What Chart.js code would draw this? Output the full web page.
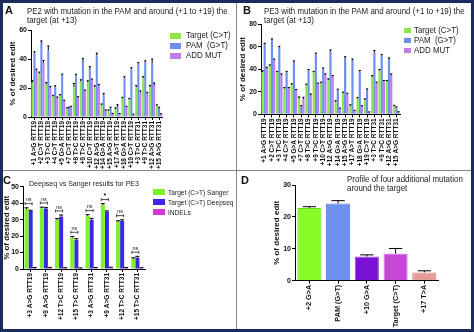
<!DOCTYPE html>
<html>
<head>
<meta charset="utf-8">
<script src="https://cdn.jsdelivr.net/npm/chart.js@4.4.1/dist/chart.umd.min.js"></script>
<style>
  body { margin: 0; background: #fff; }
  #fig { position: relative; width: 474px; height: 332px; overflow: hidden; background: #fff;
         font-family: "Liberation Sans", Arial, sans-serif; color: #1a1a1a; }
  #fig canvas { position: absolute; }
  .frame { position: absolute; left: 0; top: 0; width: 474px; height: 332px; box-sizing: border-box;
           border: 3px solid #1c2b5e; pointer-events: none; }
  .vline { position: absolute; left: 236px; top: 0; width: 1px; height: 332px; background: #7f8ba3; }
  .hline { position: absolute; left: 0; top: 170px; width: 474px; height: 1px; background: #7f8ba3; }
  .letter { position: absolute; font-weight: bold; font-size: 11px; line-height: 11px; color: #111; }
  .title { position: absolute; font-size: 9px; line-height: 9px; white-space: nowrap; color: #222;
           transform: scaleX(0.88); transform-origin: 0 0; }
  .legend { position: absolute; color: #222; white-space: pre; }
  .legend span { position: absolute; }
  .legend span.txt { transform: scaleX(0.88); transform-origin: 0 0; }
</style>
</head>
<body>
<div id="fig">
  <canvas id="chartA" width="168" height="170" style="left:0;top:0"></canvas>
  <canvas id="chartB" width="168" height="170" style="left:238px;top:0"></canvas>
  <canvas id="chartC" width="152" height="157" style="left:0;top:171px"></canvas>
  <canvas id="chartD" width="210" height="157" style="left:238px;top:171px"></canvas>

  <div class="vline"></div>
  <div class="hline"></div>

  <div class="letter" style="left:5px;top:5px">A</div>
  <div class="title" style="left:27px;top:7px">PE2 with mutation in the PAM and around (+1 to +19) the<br>target (at +13)</div>
  <div class="letter" style="left:243px;top:5px">B</div>
  <div class="title" style="left:264px;top:7px">PE3 with mutation in the PAM and around (+1 to +19) the<br>target (at +13)</div>
  <div class="letter" style="left:3px;top:175px">C</div>
  <div class="title" style="left:29px;top:178.5px;font-size:8px">Deepseq vs Sanger results for PE3</div>
  <div class="letter" style="left:241px;top:175px">D</div>
  <div class="title" style="left:347px;top:175px;line-height:8.5px">Profile of four additional mutation<br>around the target</div>

  <div id="legendA" class="legend"></div>
  <div id="legendB" class="legend"></div>
  <div id="legendC" class="legend"></div>

  <div class="frame"></div>
</div>
<script>
// edit sites shared by the PE2 and PE3 panels
const siteLabels = [
  '+1 A>G RTT19', '+2 C>T RTT19', '+3 T>C RTT19', '+4 C>T RTT19', '+5 G>A RTT19',
  '+7 C>T RTT19', '+8 T>C RTT19', '+9 T>C RTT19', '+10 C>T RTT19', '+12 A>G RTT19',
  '+14 G>A RTT19', '+15 A>G RTT19', '+17 A>T RTT19', '+18 G>A RTT19', '+19 C>T RTT19',
  '+3 T>C RTT31', '+9 T>C RTT31', '+12 A>G RTT31', '+15 A>G RTT31'
];
const seriesNames = ['Target (C>T)', 'PAM  (G>T)', 'ADD MUT'];

// PE2
const pe2Target = [24, 30, 22.7, 14, 14.6, 5.7, 20.6, 24.5, 24, 20.6, 8.2, 4.4, 5.5, 12.8, 12, 20.6, 26.8, 20.6, 7.8];
const pe2Pam    = [44, 51, 46, 20.6, 28.6, 6.2, 28, 39.4, 33.2, 42.6, 15.3, 6, 7, 26.8, 33, 36.6, 37.8, 37, 6.2];
const pe2Add    = [32, 37.5, 20, 12.8, 10.8, 6.9, 13, 17.6, 25.2, 21.5, 4.4, 2, 2, 6.9, 1.6, 17, 16, 22, 2];
const pe2TargetErr = [1, 1, 1, 1, 0.8, 0.6, 2.5, 1.2, 1, 1, 0.8, 0.5, 0.8, 0.8, 0.8, 1, 1, 1.2, 0.6];
const pe2PamErr    = [1, 1.5, 3, 1, 1, 0.6, 1.5, 1, 1.5, 1.5, 1, 0.8, 1.5, 1, 1, 1, 1, 3, 0.5];
const pe2AddErr    = [1, 1.5, 1, 1, 0.8, 0.5, 1, 1, 1, 1, 0.5, 0.5, 0.4, 0.5, 0.4, 1, 1, 1.5, 0.3];

// PE3
const pe3Target = [37.5, 42.8, 37, 22.7, 26, 13.9, 25.7, 37, 27.5, 30.4, 11, 18.6, 7.4, 13.9, 12.7, 32.8, 38.7, 29, 7.4];
const pe3Pam    = [62, 65.8, 59, 37, 46.3, 6.8, 38.7, 53, 40, 55.5, 21.5, 50, 48, 37.8, 21.5, 55, 52, 49, 6.2];
const pe3Add    = [40.7, 47.5, 34.8, 22.7, 21, 13.6, 17, 26.6, 34.8, 33.4, 4.7, 17.7, 3, 6.8, 1.8, 27.5, 29, 34.8, 2];
const pe3TargetErr = [1, 1, 1, 1, 1, 1.5, 1, 1, 1, 1, 1, 1, 1, 1, 1, 1.5, 1, 1, 0.6];
const pe3PamErr    = [1, 1, 1.2, 1, 1, 0.8, 1, 1.2, 1, 1.5, 0.8, 1, 1, 1, 1, 1.5, 1, 1, 0.5];
const pe3AddErr    = [1, 1.5, 1, 1, 1, 1.5, 1, 1, 1, 1, 0.8, 1, 0.5, 0.8, 0.3, 1, 1, 1, 0.3];

// Deepseq vs Sanger
const seqLabels = ['+3 A>G RTT19', '+9 A>G RTT19', '+12 T>C RTT19', '+15 T>C RTT19',
                   '+3 A>G RTT31', '+9 A>G RTT31', '+12 T>C RTT31', '+15 T>C RTT31'];
const seqNames = ['Target (C>T) Sanger', 'Target (C>T) Deepseq', 'INDELs'];
const sangerVals  = [36.4, 36.8, 29.8, 19, 32.4, 38.9, 28.7, 6];
const deepseqVals = [35.2, 36.8, 31.8, 17.6, 29.8, 34.8, 29.1, 6.9];
const indelVals   = [0.6, 0.7, 0.5, 0.4, 0.6, 0.8, 0.6, 0.5];
const sangerErr   = [0.8, 0.8, 0.8, 0.8, 0.6, 0.8, 0.6, 0.8];
const deepseqErr  = [0.5, 0.5, 1, 0.8, 1, 0.5, 0.8, 0.8];
const indelErr    = [0.3, 0.3, 0.3, 0.3, 0.3, 0.3, 0.3, 0.3];
const sigMarks    = ['ns', 'ns', 'ns', 'ns', 'ns', '*', 'ns', 'ns'];

// four additional mutations
const profileLabels = ['+2 G>A', 'PAM (G>T)', '+10 G>A', 'Target (C>T)', '+17 T>A'];
const profileVals   = [22.8, 24.2, 7.6, 8.5, 2.6];
const profileErr    = [0.4, 0.9, 0.5, 1.6, 0.5];

const abColors = ['#8ee44c', '#6d8ff0', '#c27cf0'];
const seqColors = ['#7ef22a', '#3b27e4', '#d63ad6'];
const profileColors = ['#86fb25', '#6e90ef', '#7a12d4', '#c647d6', '#e89c9a'];
const profileEdges  = ['#6fd81a', '#5a7ad8', '#9a50e0', '#e070e8', '#d88886'];

const FONT = '"Liberation Sans", Arial, sans-serif';
Chart.defaults.font.family = FONT;

// mean + SD caps drawn on top of each bar
const errorBars = {
  id: 'errorBars',
  afterDatasetsDraw(chart, args, opts) {
    const { ctx, scales: { y } } = chart;
    ctx.save();
    ctx.strokeStyle = '#000';
    ctx.lineWidth = 1;
    chart.data.datasets.forEach((ds, i) => {
      if (!ds.errors) return;
      chart.getDatasetMeta(i).data.forEach((bar, j) => {
        const yTop = y.getPixelForValue(ds.data[j] + ds.errors[j]);
        const half = Math.max(bar.width * (opts.cap || 1) / 2, 1);
        ctx.beginPath();
        ctx.moveTo(bar.x, bar.y);
        ctx.lineTo(bar.x, yTop);
        ctx.moveTo(bar.x - half, yTop);
        ctx.lineTo(bar.x + half, yTop);
        ctx.stroke();
      });
    });
    ctx.restore();
  }
};

// significance brackets between the first two series
const sigBrackets = {
  id: 'sigBrackets',
  afterDatasetsDraw(chart, args, opts) {
    if (!opts.marks) return;
    const { ctx, scales: { y } } = chart;
    const [d0, d1] = chart.data.datasets;
    const m0 = chart.getDatasetMeta(0).data, m1 = chart.getDatasetMeta(1).data;
    ctx.save();
    ctx.strokeStyle = '#222';
    ctx.fillStyle = '#222';
    ctx.lineWidth = 0.8;
    ctx.textAlign = 'center';
    ctx.textBaseline = 'bottom';
    opts.marks.forEach((mark, i) => {
      const top = Math.max(d0.data[i] + d0.errors[i], d1.data[i] + d1.errors[i]);
      const yy = y.getPixelForValue(top + opts.gap);
      const x1 = m0[i].x - 1.5, x2 = m1[i].x + 1.5;
      ctx.beginPath();
      ctx.moveTo(x1, yy); ctx.lineTo(x2, yy);
      ctx.moveTo(x1, yy - 1.5); ctx.lineTo(x1, yy + 1.5);
      ctx.moveTo(x2, yy - 1.5); ctx.lineTo(x2, yy + 1.5);
      ctx.stroke();
      ctx.font = mark === '*' ? `bold 7px ${FONT}` : `5.5px ${FONT}`;
      ctx.fillText(mark, (x1 + x2) / 2, yy - (mark === '*' ? 0 : 1));
    });
    ctx.restore();
  }
};

function baseOptions({ yMax, yStep, yWidth, xHeight, pad, titlePad, xFont }) {
  const tickGrid = { display: true, drawOnChartArea: false, offset: false, color: '#000', tickLength: 3, tickWidth: 1 };
  return {
    responsive: false,
    animation: false,
    events: [],
    layout: { padding: pad },
    plugins: { legend: { display: false }, tooltip: { enabled: false } },
    scales: {
      x: {
        grid: tickGrid,
        border: { color: '#000', width: 1 },
        ticks: { autoSkip: false, minRotation: 90, maxRotation: 90, padding: 1, color: '#111', font: xFont },
        afterFit: (s) => { s.height = xHeight; },
      },
      y: {
        min: 0,
        max: yMax,
        grid: tickGrid,
        border: { color: '#000', width: 1 },
        ticks: { stepSize: yStep, padding: 1, color: '#111', font: { size: 7, weight: 'bold' } },
        title: {
          display: true, text: '% of desired edit', color: '#111',
          font: { size: 8, weight: 'bold' }, padding: { top: titlePad, bottom: 0 }
        },
        afterFit: (s) => { s.width = yWidth; },
      },
    },
  };
}

function groupedDatasets(names, colors, values, errors, catPct) {
  return names.map((label, i) => ({
    label,
    data: values[i],
    errors: errors[i],
    backgroundColor: colors[i],
    borderWidth: 0,
    barPercentage: 1,
    categoryPercentage: catPct,
  }));
}

function legend(id, names, colors, { left, top, row, sw, sh, textLeft, size }) {
  const el = document.getElementById(id);
  el.style.left = left + 'px';
  el.style.top = top + 'px';
  el.style.fontSize = size + 'px';
  names.forEach((name, i) => {
    const cy = i * row;
    const sq = document.createElement('span');
    sq.style.cssText = `left:0;top:${cy - sh / 2}px;width:${sw}px;height:${sh}px;background:${colors[i]}`;
    const tx = document.createElement('span');
    tx.className = 'txt';
    tx.textContent = name;
    tx.style.cssText = `left:${textLeft}px;top:${cy - size * 0.6}px;line-height:${size * 1.2}px`;
    el.append(sq, tx);
  });
}

const smallLabels = { size: 6.5, weight: 'bold' };

new Chart(document.getElementById('chartA'), {
  type: 'bar',
  data: {
    labels: siteLabels,
    datasets: groupedDatasets(seriesNames, abColors, [pe2Target, pe2Pam, pe2Add],
                              [pe2TargetErr, pe2PamErr, pe2AddErr], 0.9),
  },
  options: baseOptions({ yMax: 60, yStep: 20, yWidth: 31, xHeight: 53,
                         pad: { left: 0, top: 30, right: 5, bottom: 0 }, titlePad: 8, xFont: smallLabels }),
  plugins: [errorBars],
});

new Chart(document.getElementById('chartB'), {
  type: 'bar',
  data: {
    labels: siteLabels,
    datasets: groupedDatasets(seriesNames, abColors, [pe3Target, pe3Pam, pe3Add],
                              [pe3TargetErr, pe3PamErr, pe3AddErr], 0.9),
  },
  options: baseOptions({ yMax: 80, yStep: 20, yWidth: 23, xHeight: 55.7,
                         pad: { left: 0, top: 24, right: 6, bottom: 0 }, titlePad: 0, xFont: smallLabels }),
  plugins: [errorBars],
});

const optsC = baseOptions({ yMax: 50, yStep: 10, yWidth: 23, xHeight: 59,
                            pad: { left: 0, top: 15.7, right: 7, bottom: 0 }, titlePad: 2, xFont: smallLabels });
optsC.plugins.sigBrackets = { marks: sigMarks, gap: 2.5 };
new Chart(document.getElementById('chartC'), {
  type: 'bar',
  data: {
    labels: seqLabels,
    datasets: groupedDatasets(seqNames, seqColors, [sangerVals, deepseqVals, indelVals],
                              [sangerErr, deepseqErr, indelErr], 0.8),
  },
  options: optsC,
  plugins: [errorBars, sigBrackets],
});

const optsD = baseOptions({ yMax: 30, yStep: 10, yWidth: 27, xHeight: 47.3,
                            pad: { left: 30, top: 14, right: 9.3, bottom: 0 }, titlePad: 4,
                            xFont: { size: 7.3, weight: 'bold' } });
optsD.plugins.errorBars = { cap: 0.55 };
new Chart(document.getElementById('chartD'), {
  type: 'bar',
  data: {
    labels: profileLabels,
    datasets: [{
      data: profileVals,
      errors: profileErr,
      backgroundColor: profileColors,
      borderColor: profileEdges,
      borderWidth: 1,
      barPercentage: 1,
      categoryPercentage: 0.84,
    }],
  },
  options: optsD,
  plugins: [errorBars],
});

legend('legendA', seriesNames, abColors, { left: 170, top: 35.7, row: 10, sw: 11, sh: 6, textLeft: 16, size: 9 });
legend('legendB', seriesNames, abColors, { left: 404, top: 30, row: 10, sw: 7, sh: 5, textLeft: 10, size: 9 });
legend('legendC', seqNames, seqColors, { left: 153, top: 192, row: 10, sw: 12, sh: 6, textLeft: 15, size: 7.5 });
</script>
</body>
</html>
